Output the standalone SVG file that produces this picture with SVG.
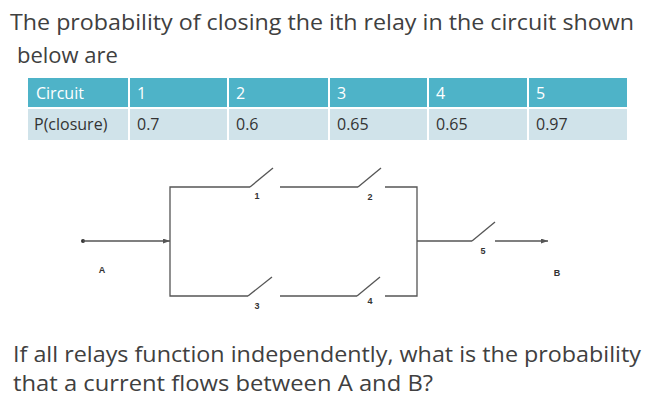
<svg xmlns="http://www.w3.org/2000/svg" width="652" height="414" viewBox="0 0 652 414">
<style>
.t{font-family:"Open Sans","Liberation Sans",sans-serif;font-size:22px;fill:#404040}
.c{font-family:"Open Sans","Liberation Sans",sans-serif;font-size:16px}
.h{fill:#fff}.b{fill:#333}
.w{stroke:#555;stroke-width:1.3;fill:none}
.l{font-family:"Liberation Sans",sans-serif;font-size:9px;font-weight:bold;fill:#333;text-anchor:middle}
</style>
<defs><marker id="ar" markerUnits="userSpaceOnUse" markerWidth="7" markerHeight="5" refX="7" refY="2.5" orient="auto"><path d="M0,0 L7,2.5 L0,5 Z" fill="#555"/></marker></defs>
<rect width="652" height="414" fill="#fff"/>
<text class="t" x="10" y="30" textLength="624" lengthAdjust="spacingAndGlyphs">The probability of closing the ith relay in the circuit shown</text>
<text class="t" x="17" y="63">below are</text>
<g id="table">
<rect x="28" y="78" width="599" height="29" fill="#4eb3c8"/>
<rect x="28" y="109" width="599" height="31" fill="#d0e3ea"/>
<g stroke="#fff" stroke-width="2"><line x1="129" y1="78" x2="129" y2="140"/><line x1="228" y1="78" x2="228" y2="140"/><line x1="329" y1="78" x2="329" y2="140"/><line x1="428" y1="78" x2="428" y2="140"/><line x1="528" y1="78" x2="528" y2="140"/></g>
<g class="c h"><text x="36" y="99">Circuit</text><text x="137" y="99">1</text><text x="236" y="99">2</text><text x="337" y="99">3</text><text x="436" y="99">4</text><text x="536" y="99">5</text></g>
<g class="c b"><text x="34" y="130">P(closure)</text><text x="137" y="130">0.7</text><text x="236" y="130">0.6</text><text x="337" y="130">0.65</text><text x="436" y="130">0.65</text><text x="536" y="130">0.97</text></g>
</g>
<g id="connectors" class="w">
<circle cx="83" cy="241" r="2" fill="#333" stroke="none"/>
<line x1="83" y1="241" x2="170" y2="241" marker-end="url(#ar)"/>
<path d="M250,187 H170 V296 H248"/>
<path d="M280,187 H358"/><path d="M385,187 H417 V296 H385"/><path d="M280,296 H357"/>
<path d="M417,241 H472"/>
<line x1="495" y1="241" x2="548" y2="241" marker-end="url(#ar)"/>
</g>
<g id="s1"><line class="w" x1="250" y1="187" x2="273" y2="168"/><text class="l" x="257" y="199">1</text></g>
<g id="s2"><line class="w" x1="358" y1="187" x2="381" y2="168"/><text class="l" x="370" y="200">2</text></g>
<g id="s3"><line class="w" x1="248" y1="296" x2="272" y2="277"/><text class="l" x="257" y="309">3</text></g>
<g id="s4"><line class="w" x1="357" y1="296" x2="380" y2="277"/><text class="l" x="370" y="304">4</text></g>
<g id="s5"><line class="w" x1="472" y1="241" x2="495" y2="222"/><text class="l" x="483" y="254">5</text></g>
<text class="l" x="102" y="273">A</text>
<text class="l" x="557" y="276">B</text>
<text class="t" x="13" y="362" textLength="628" lengthAdjust="spacingAndGlyphs">If all relays function independently, what is the probability</text>
<text class="t" x="13" y="391" textLength="420" lengthAdjust="spacingAndGlyphs">that a current flows between A and B?</text>
</svg>
